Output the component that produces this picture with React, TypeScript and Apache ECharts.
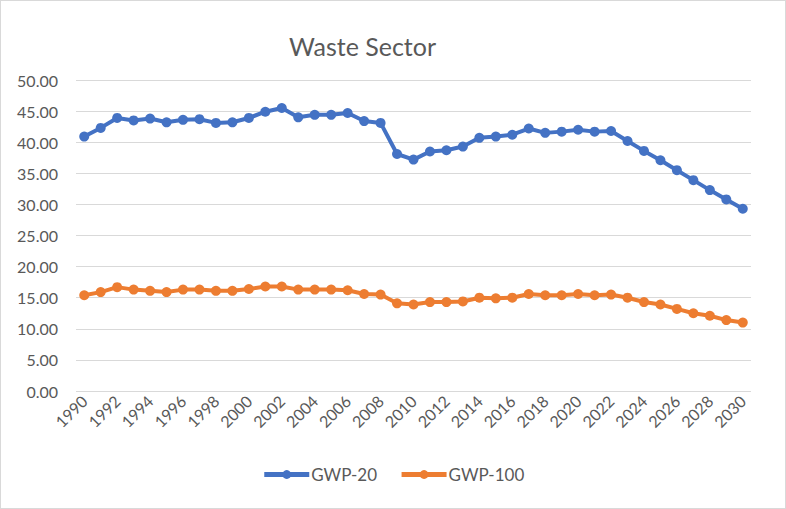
import React, { useEffect, useRef } from "react";
import * as echarts from "echarts";

const years: string[] = [];
for (let y = 1990; y <= 2030; y++) years.push(String(y));

const gwp20 = [
  40.9, 42.3, 43.9, 43.5, 43.8, 43.2, 43.6, 43.7, 43.1, 43.2,
  43.9, 44.9, 45.5, 44.0, 44.4, 44.4, 44.7, 43.4, 43.1, 38.1,
  37.2, 38.5, 38.7, 39.3, 40.7, 40.9, 41.2, 42.2, 41.5, 41.7,
  42.0, 41.7, 41.8, 40.2, 38.6, 37.1, 35.5, 33.9, 32.3, 30.8,
  29.3,
];

const gwp100 = [
  15.4, 15.9, 16.7, 16.3, 16.1, 15.9, 16.3, 16.3, 16.1, 16.1,
  16.4, 16.8, 16.8, 16.3, 16.3, 16.3, 16.2, 15.6, 15.5, 14.1,
  13.9, 14.3, 14.3, 14.4, 15.0, 14.9, 15.0, 15.6, 15.4, 15.4,
  15.6, 15.4, 15.5, 15.0, 14.3, 13.9, 13.2, 12.5, 12.1, 11.4,
  11.0,
];

const FONT = "Lato, 'Liberation Sans', sans-serif";
const TEXT = "#595959";

export default function App() {
  const ref = useRef<HTMLDivElement>(null);

  useEffect(() => {
    if (!ref.current) return;
    const chart = echarts.init(ref.current, undefined, { renderer: "svg" });
    const lineSeries = (name: string, data: number[], color: string) => ({
      name,
      type: "line",
      data,
      symbol: "circle",
      symbolSize: 10,
      lineStyle: { width: 4, color },
      itemStyle: { color },
    });
    chart.setOption({
      animation: false,
      backgroundColor: "#ffffff",
      title: {
        text: "Waste Sector",
        left: 283,
        top: 27,
        textStyle: { fontFamily: FONT, fontSize: 25, fontWeight: "normal", color: TEXT },
      },
      grid: { left: 75, right: 34, top: 79, bottom: 117 },
      xAxis: {
        type: "category",
        data: years,
        boundaryGap: true,
        axisLine: { show: false },
        axisTick: { show: false },
        axisLabel: {
          interval: 1,
          rotate: 45,
          margin: 7,
          fontFamily: FONT,
          fontSize: 16,
          color: TEXT,
        },
      },
      yAxis: {
        type: "value",
        min: 0,
        max: 50,
        interval: 5,
        axisLine: { show: false },
        axisTick: { show: false },
        splitLine: { lineStyle: { color: "#d9d9d9", width: 1 } },
        axisLabel: {
          margin: 18,
          fontFamily: FONT,
          fontSize: 16,
          color: TEXT,
          formatter: (v: number) => v.toFixed(2),
        },
      },
      legend: {
        bottom: 20,
        left: "center",
        itemWidth: 45,
        itemHeight: 11,
        itemGap: 22,
        lineStyle: { width: 5 },
        textStyle: { fontFamily: FONT, fontSize: 17, color: TEXT, padding: [0, 0, 0, -3] },
        data: ["GWP-20", "GWP-100"],
      },
      series: [
        lineSeries("GWP-20", gwp20, "#4472C4"),
        lineSeries("GWP-100", gwp100, "#ED7D31"),
      ],
    });
    return () => chart.dispose();
  }, []);

  return (
    <div
      ref={ref}
      style={{
        width: 784,
        height: 507,
        border: "1px solid #d9d9d9",
        position: "absolute",
        left: 0,
        top: 0,
        background: "#fff",
      }}
    />
  );
}
